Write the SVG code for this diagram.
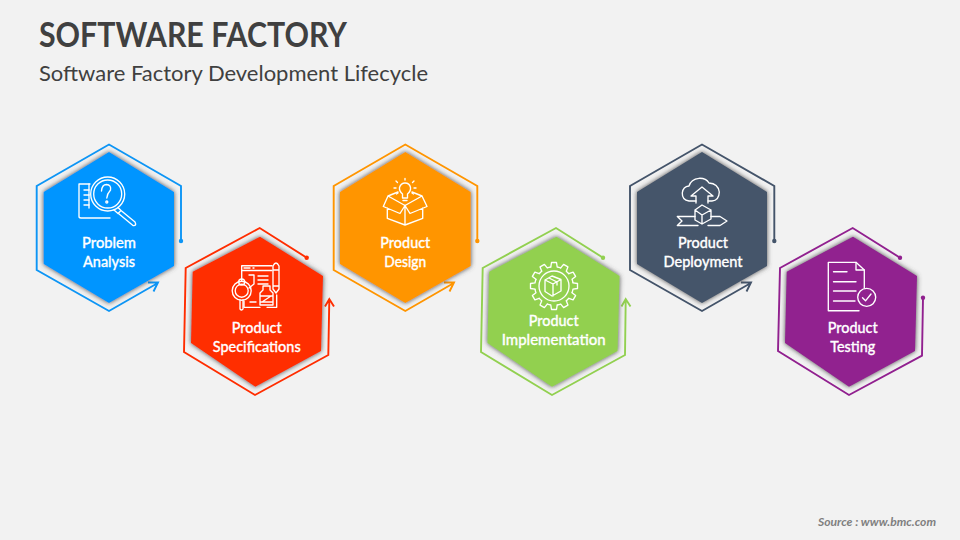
<svg xmlns="http://www.w3.org/2000/svg" width="960" height="540" viewBox="0 0 960 540">
<style>
text{font-family:"Lato","Open Sans","Liberation Sans",sans-serif}
.lb{fill:#fff;stroke:#fff;stroke-width:0.3;font-size:15px;font-weight:500;text-anchor:middle}
.ol{fill:none;stroke-width:1.9;stroke-linejoin:miter}
.ic{fill:none;stroke:#fff;stroke-width:1.35;stroke-linejoin:round;stroke-linecap:round}
.hx{filter:url(#sh)}
</style>
<defs>
<filter id="sh" x="-15%" y="-15%" width="130%" height="130%"><feDropShadow dx="0" dy="0" stdDeviation="2.4" flood-color="#4a4a4a" flood-opacity="1"/></filter>
<path id="tooth" d="M-3.2,-19 L-2.500,-23.500 L2.500,-23.500 L3.200,-19 A19.300,19.300 0 0 1 6.600,-18.100"/>
</defs>
<rect width="960" height="540" fill="#f2f2f2"/>
<text x="39" y="47" font-size="35" font-weight="700" fill="#404040" textLength="308" lengthAdjust="spacingAndGlyphs">SOFTWARE FACTORY</text>
<text x="39" y="81" font-size="22" fill="#404040" textLength="389" lengthAdjust="spacingAndGlyphs">Software Factory Development Lifecycle</text>
<text x="936" y="526" font-size="10.5" font-weight="700" font-style="italic" fill="#7f7f7f" text-anchor="end" textLength="118" lengthAdjust="spacingAndGlyphs">Source : www.bmc.com</text>

<g id="connectors">
<g stroke="#0d95f5" fill="#0d95f5"><path class="ol" d="M181,241V186L109,144.500L36.700,186V270L109,311L157,283.500M148,282.500L158,282.500L153.500,291.500"/><circle cx="181" cy="241" r="2.200" stroke="none"/></g>
<g stroke="#ff2d00" fill="#ff2d00"><path class="ol" d="M306.700,257.700L259.700,228L185.700,268L184,352L255,395L328.300,355L329.300,300M325,306.500L329.300,299L334,306.500"/><circle cx="306.700" cy="257.700" r="2.200" stroke="none"/></g>
<g stroke="#ff9500" fill="#ff9500"><path class="ol" d="M477.300,241V186L405.300,144.500L333.700,186V270L405.300,311L453,283.500M444,282.500L454,282.500L449.500,291.500"/><circle cx="477.300" cy="241" r="2.200" stroke="none"/></g>
<g stroke="#92d050" fill="#92d050"><path class="ol" d="M603,257.700L556,228L482.700,268L481,352L552,395L625,355L625.700,300M621.500,306.500L625.700,299L630.500,306.500"/><circle cx="603" cy="257.700" r="2.200" stroke="none"/></g>
<g stroke="#44546a" fill="#44546a"><path class="ol" d="M774.300,241V186L702,144.500L630,186V270L702,311L750,283.500M741,282.500L751,282.500L746.500,291.500"/><circle cx="774.300" cy="241" r="2.200" stroke="none"/></g>
<g stroke="#91208f" fill="#91208f"><path class="ol" d="M900,257.700L852.700,228L780,268L778,351L849,395L922,355.700L923,298"/><circle cx="900" cy="257.700" r="2.200" stroke="none"/><circle cx="923" cy="297.700" r="2.200" stroke="none"/></g>
</g>

<g id="node-problem-analysis">
<polygon class="hx" fill="#0095ff" points="109,152 174,192 174,266 109,303 43.700,264 43.700,192"/>
<g class="ic">
<path d="M90,184H79V216.500Q79,218 81,218H110"/><path d="M89,184V208"/><path d="M84,190H89M84,195H89M84,200H89M84,205H89"/>
<circle cx="107.700" cy="194" r="17"/><circle cx="107.700" cy="194" r="14"/>
<path d="M118,207.500L121,210.500L118,213.500L114,210M121,210.500L135,222Q137,226 133,225.500L118.500,213.500"/>
<path d="M101.500,191Q102,184.500 106.500,184.500Q111.500,185 110.500,190Q107,194 106.800,198"/><circle cx="106.800" cy="202" r="1"/>
</g>
<text class="lb" x="109" y="247.700" textLength="54" lengthAdjust="spacingAndGlyphs">Problem</text>
<text class="lb" x="109" y="266.700" textLength="52" lengthAdjust="spacingAndGlyphs">Analysis</text>
</g>

<g id="node-product-specifications">
<polygon class="hx" fill="#ff2d00" points="260,236.700 323,276 321,351 255.300,386.700 191,343 192.700,271.700"/>
<g class="ic">
<path d="M241.700,281V265.700H272M241.700,270.500H272M276.700,295V307.300H267M244,301V307.300H260"/>
<path d="M244,268H250M253,268H254"/><path d="M258,276H268M258,280H268M258,284H268"/><path d="M249,275H254V284L249,288"/><path d="M250,302H256"/>
<path d="M273,266Q276,260 279,266V289L276,293L273,289ZM273,270H279M273,286H279"/>
<circle cx="241.700" cy="290.700" r="9.500"/><circle cx="241.700" cy="290.700" r="6.500"/><circle cx="241.700" cy="282" r="3"/>
<path d="M240,300V309Q241.700,311 243,309V300"/>
<path d="M263,286H270V290L273,293V305H260V293L263,290ZM260,296H273M260,302H273M262,302L271,296"/>
</g>
<text class="lb" x="256.700" y="333" textLength="50" lengthAdjust="spacingAndGlyphs">Product</text>
<text class="lb" x="256.700" y="351.700" textLength="88" lengthAdjust="spacingAndGlyphs">Specifications</text>
</g>

<g id="node-product-design">
<polygon class="hx" fill="#ff9500" points="405.300,152 470.700,192 470.700,266 405.300,303 340,264 340,192"/>
<g class="ic">
<path d="M402.500,194Q399,191 399.500,187.500Q401,183 405,183Q409.500,183 410.500,187.500Q411,191 407.500,194V198H402.500ZM403,200.500H407"/>
<path d="M405,178.500V180M396,181L397.500,182.500M414,181L412.500,182.500M394,188H396M414,188H416M396.500,194L398,193M413.500,194L412,193"/>
<path d="M405,205.500L388,196L383.300,206.500L400,213.500ZM405,205.500L422,196L427,206.500L410,213.500ZM405,205.500V225M387.300,208V218.300L405,225L422.700,218.300V208M388,196L398,192M422,196L412,192"/>
</g>
<text class="lb" x="405.300" y="247.700" textLength="50" lengthAdjust="spacingAndGlyphs">Product</text>
<text class="lb" x="405.300" y="266.700" textLength="42" lengthAdjust="spacingAndGlyphs">Design</text>
</g>

<g id="node-product-implementation">
<polygon class="hx" fill="#92d050" points="556.500,236.700 619.500,276 617.500,351 552,386.700 487.500,343 489.200,271.700"/>
<g class="ic">
<g transform="translate(554,286)"><use href="#tooth"/><use href="#tooth" transform="rotate(30)"/><use href="#tooth" transform="rotate(60)"/><use href="#tooth" transform="rotate(90)"/><use href="#tooth" transform="rotate(120)"/><use href="#tooth" transform="rotate(150)"/><use href="#tooth" transform="rotate(180)"/><use href="#tooth" transform="rotate(210)"/><use href="#tooth" transform="rotate(240)"/><use href="#tooth" transform="rotate(270)"/><use href="#tooth" transform="rotate(300)"/><use href="#tooth" transform="rotate(330)"/></g>
<circle cx="554" cy="286" r="15"/>
<path d="M552,276L561,279.500V291L552,296L545,291.500V280ZM545,280L553,284L561,279.500M553,284V296M549,278L557,282V285"/>
</g>
<text class="lb" x="553.700" y="325.700" textLength="50" lengthAdjust="spacingAndGlyphs">Product</text>
<text class="lb" x="553.700" y="344.700" textLength="104" lengthAdjust="spacingAndGlyphs">Implementation</text>
</g>

<g id="node-product-deployment">
<polygon class="hx" fill="#44546a" points="702,152 767,192 767,266 702,303 637,264 637,192"/>
<g class="ic">
<path d="M696,201H689Q682,200 682.300,193Q683,186.500 689,186Q691,179 699,178.300Q706,178 709,183Q718,183.500 719.300,192Q719,200.500 712,201H708"/>
<path d="M696,203V196H691L702,187L713,196H708V203"/>
<path d="M702,205L711,210V219L702,224L695,220V210ZM695,210L702,215L711,210M702,215V224"/>
<path d="M695,216.500H677.300L682,221L677.300,225.500H698M711,216.500H720L727,221L720,225.500H708"/>
</g>
<text class="lb" x="703" y="247.700" textLength="50" lengthAdjust="spacingAndGlyphs">Product</text>
<text class="lb" x="703" y="266.700" textLength="79" lengthAdjust="spacingAndGlyphs">Deployment</text>
</g>

<g id="node-product-testing">
<polygon class="hx" fill="#91208f" points="853,236.700 917,276 915,351 849,386.700 785,343 786.700,271.700"/>
<g class="ic">
<path d="M859,310.700H828.300V262.300H856L864.300,270V288"/><path d="M856,262.300V270H864.300"/>
<path d="M833.500,271.700H847M833.500,281.700H856M833.500,291H856M833.500,301H855"/>
<circle cx="866.700" cy="297.300" r="9"/><path d="M862.500,297.800L865.500,300.800L871,294"/>
</g>
<text class="lb" x="852.700" y="333" textLength="50" lengthAdjust="spacingAndGlyphs">Product</text>
<text class="lb" x="852.700" y="351.700" textLength="45" lengthAdjust="spacingAndGlyphs">Testing</text>
</g>
</svg>
